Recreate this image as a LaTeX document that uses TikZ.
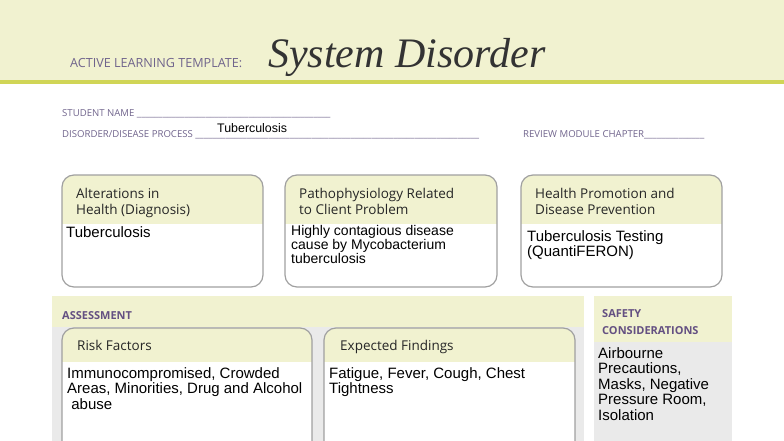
\documentclass[tikz,border=0pt]{standalone}
\usepackage{fontspec}
\setmainfont{Liberation Sans}
\newfontfamily\headfont{Open Sans}
\newfontfamily\titlefont{Liberation Serif}
\definecolor{band}{RGB}{241,242,208}
\definecolor{bandline}{RGB}{208,213,86}
\definecolor{labelgray}{RGB}{112,100,140}
\definecolor{boxline}{RGB}{160,160,160}
\definecolor{panel}{RGB}{234,234,234}
\definecolor{heading}{RGB}{100,80,130}
\tikzset{
  card/.style={draw=boxline, line width=1.2pt, rounded corners=12pt, fill=white},
  cardhead/.style={font=\headfont\fontsize{13.5}{16}\selectfont, align=left, anchor=north west, inner sep=0pt, text=black!85},
  cardtext/.style={font=\fontsize{15}{15.5}\selectfont, align=left, anchor=north west, inner sep=0pt},
  formlabel/.style={font=\headfont\fontsize{9.6}{11}\selectfont, text=labelgray, anchor=base west, inner sep=0pt}
}
\begin{document}
\begin{tikzpicture}[x=1pt,y=-1pt]
\useasboundingbox (0,0) rectangle (784,441);
% header band
\fill[band] (0,0) rectangle (784,80);
\fill[bandline] (0,80) rectangle (784,84);
\node[formlabel, font=\headfont\fontsize{12.6}{14}\selectfont] (tpl) at (70,68) {ACTIVE LEARNING TEMPLATE:};
\node[anchor=base west, inner sep=0pt, font=\titlefont\itshape\fontsize{42}{42}\selectfont, text=black!80] (title) at (268,68) {System Disorder};
% form lines
\node[formlabel] (student) at (62,117) {STUDENT NAME \_\_\_\_\_\_\_\_\_\_\_\_\_\_\_\_\_\_\_\_\_\_\_\_\_\_\_\_\_\_\_\_\_\_\_\_\_\_\_\_\_\_\_\_\_};
\node[formlabel] (disorder) at (62,138) {DISORDER/DISEASE PROCESS \_\_\_\_\_\_\_\_\_\_\_\_\_\_\_\_\_\_\_\_\_\_\_\_\_\_\_\_\_\_\_\_\_\_\_\_\_\_\_\_\_\_\_\_\_\_\_\_\_\_\_\_\_\_\_\_\_\_\_\_\_\_\_\_\_\_};
\node[anchor=base west, inner sep=0pt, font=\fontsize{12.4}{12}\selectfont] (dname) at (217,132) {Tuberculosis};
\node[formlabel] (chapter) at (523,138) {REVIEW MODULE CHAPTER\_\_\_\_\_\_\_\_\_\_\_\_\_\_};
% top cards
\foreach \xa/\xb/\nm in {62/263/alt, 285/497/patho, 521/722/promo}{
  \begin{scope}
    \clip[rounded corners=12pt] (\xa,175) rectangle (\xb,287);
    \fill[band] (\xa,175) rectangle (\xb,224);
  \end{scope}
  \draw[card, fill=none] (\xa,175) rectangle (\xb,287);
}
\node[cardhead] (althead) at (76,188) {Alterations in\\Health (Diagnosis)};
\node[cardtext] (alttext) at (66,226) {Tuberculosis};
\node[cardhead] (pathohead) at (299,188) {Pathophysiology Related\\to Client Problem};
\node[cardtext, font=\fontsize{14}{14}\selectfont] (pathotext) at (291,225) {Highly contagious disease\\cause by Mycobacterium\\tuberculosis};
\node[cardhead] (promohead) at (535,188) {Health Promotion and\\Disease Prevention};
\node[cardtext] (promotext) at (527,230) {Tuberculosis Testing\\(QuantiFERON)};
% assessment panel
\fill[panel] (52,296) rectangle (584,441);
\fill[band] (52,296) rectangle (584,327);
\node[formlabel, font=\headfont\bfseries\fontsize{11}{12}\selectfont, text=heading] (assess) at (62,319) {ASSESSMENT};
\foreach \xa/\xb in {62/312, 324/575}{
  \begin{scope}
    \clip[rounded corners=12pt] (\xa,328) rectangle (\xb,460);
    \fill[white] (\xa,328) rectangle (\xb,460);
    \fill[band] (\xa,328) rectangle (\xb,362);
  \end{scope}
  \draw[card, fill=none] (\xa,460) -- (\xa,328) [rounded corners=12pt] -- (\xb,328) [sharp corners] -- (\xb,460);
}
\node[cardhead] (riskhead) at (77,340) {Risk Factors};
\node[cardtext] (risktext) at (67,367) {Immunocompromised, Crowded\\Areas, Minorities, Drug and Alcohol\\\ abuse};
\node[cardhead] (findhead) at (340,340) {Expected Findings};
\node[cardtext] (findtext) at (329,367) {Fatigue, Fever, Cough, Chest\\Tightness};
% safety panel
\fill[panel] (594,296) rectangle (732,441);
\fill[band] (594,296) rectangle (732,342);
\node[formlabel, font=\headfont\bfseries\fontsize{11}{17}\selectfont, text=heading, align=left, anchor=north west] (safety) at (602,309) {SAFETY\\CONSIDERATIONS};
\node[cardtext] (safetytext) at (598,347) {Airbourne\\Precautions,\\Masks, Negative\\Pressure Room,\\Isolation};
\end{tikzpicture}
\end{document}
